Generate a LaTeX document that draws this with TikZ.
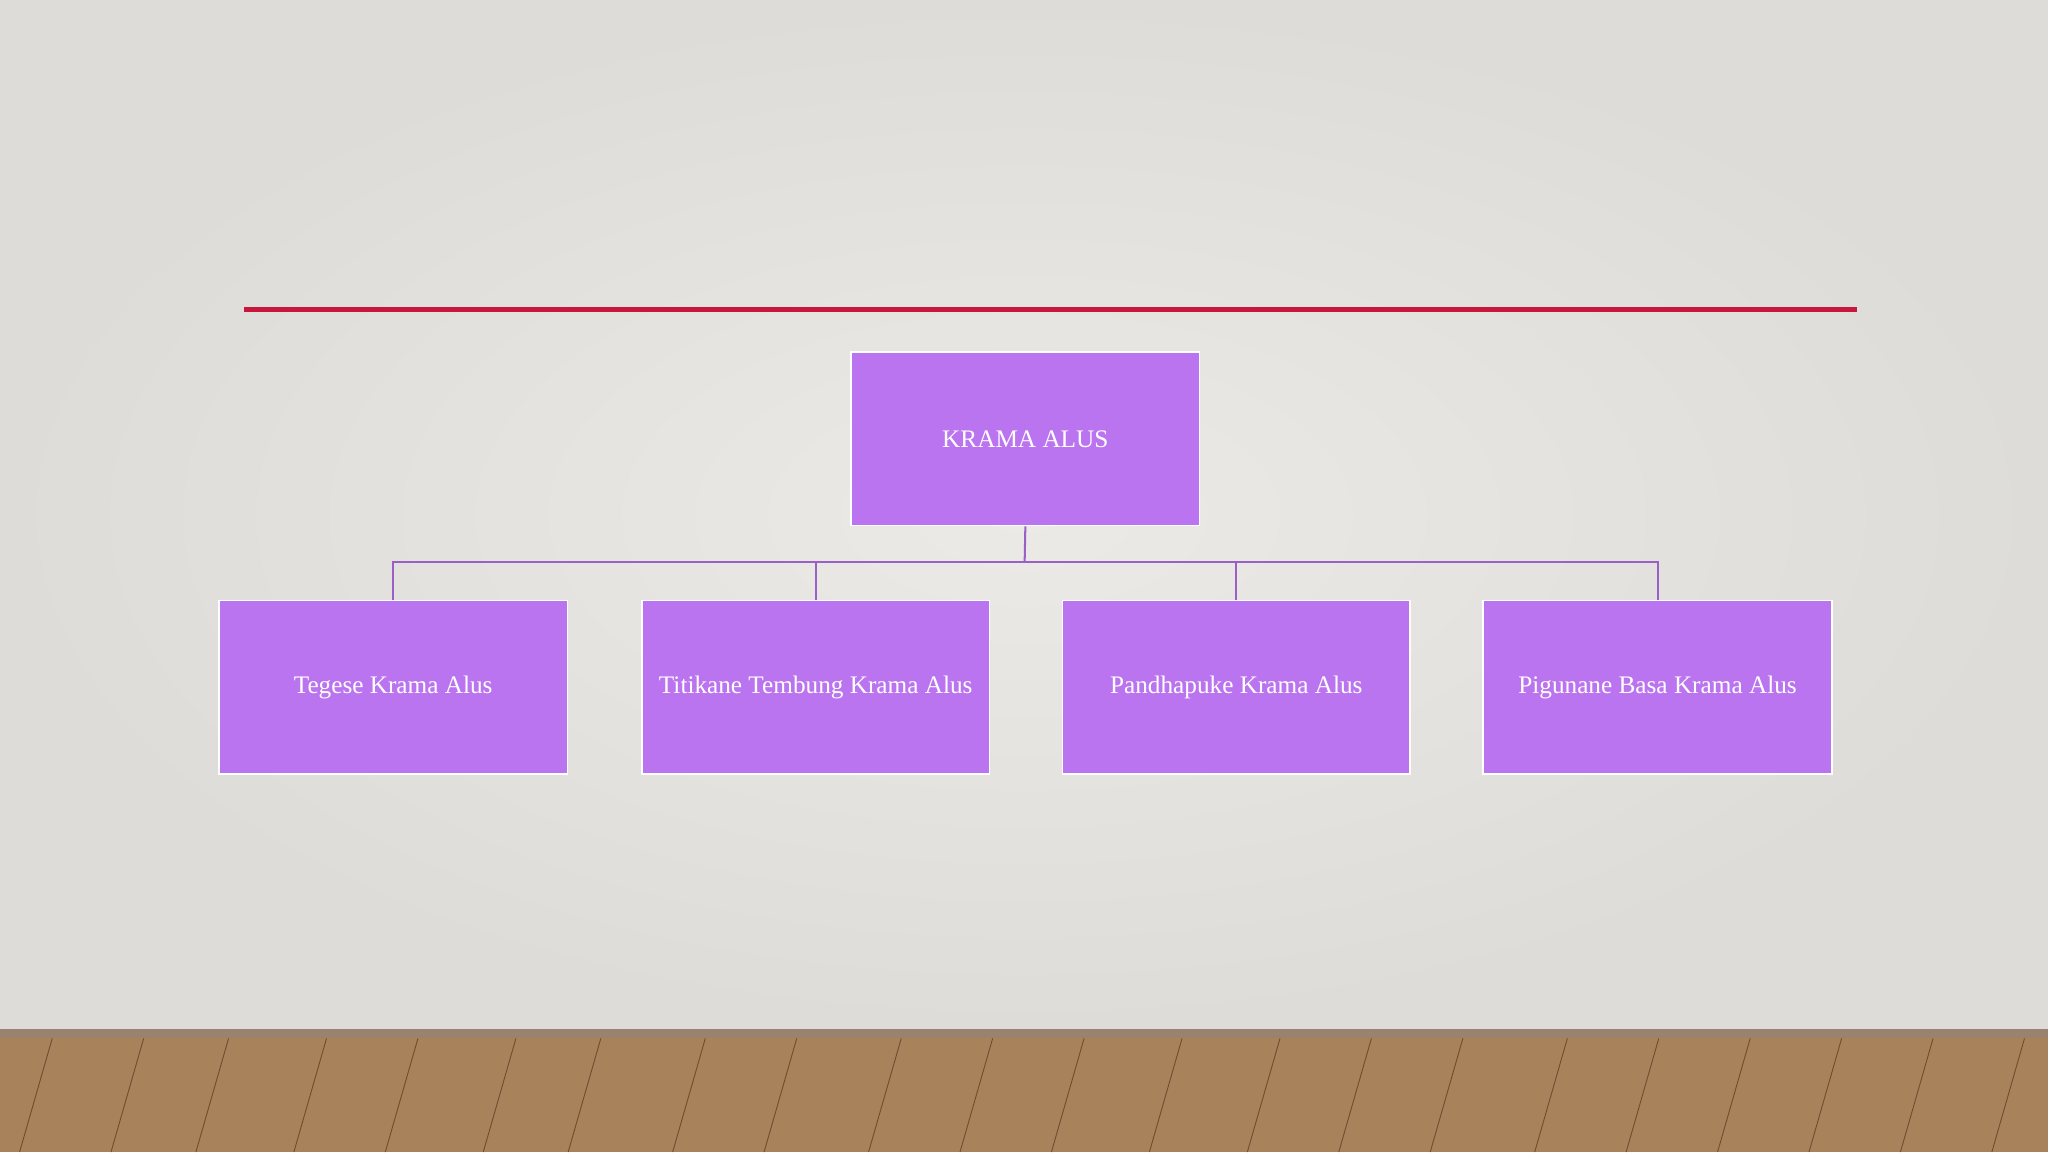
\documentclass[tikz,border=0pt]{standalone}
\usepackage{fontspec}
\setmainfont{Liberation Serif}
\definecolor{boxfill}{HTML}{BB74EF}
\definecolor{linkc}{HTML}{9B5FC8}
\definecolor{redline}{HTML}{C8163C}
\definecolor{bgc}{HTML}{ECEAE6}
\definecolor{bgd}{HTML}{DEDCD8}
\definecolor{wood}{HTML}{A8825A}
\definecolor{woodd}{HTML}{6E4E30}
\begin{document}
\begin{tikzpicture}[x=0.05cm,y=-0.05cm,
  box/.style={draw=white,line width=1.5pt,fill=boxfill,text=white,font=\fontsize{27.5}{32}\selectfont,minimum width=267*0.05cm,minimum height=133*0.05cm,inner sep=0pt,anchor=north west},
  link/.style={draw=linkc,line width=2.2pt}]
\useasboundingbox (0,0) rectangle (1568,882);
\shade[inner color=bgc,outer color=bgd] (0,0) rectangle (1568,788);
\fill[wood] (0,788) rectangle (1568,882);
\fill[woodd!70] (0,788) rectangle (1568,795);
\foreach \x in {40,110,175,250,320,395,460,540,610,690,760,830,905,980,1050,1120,1200,1270,1340,1410,1480,1550}
  \draw[woodd,line width=1pt] (\x,795) -- (\x-25,882);
\draw[redline,line width=4.5pt] (187,237) -- (1422,237);
\node[box] (top) at (651,269) {KRAMA ALUS};
\node[box] (a) at (167,459) {Tegese Krama Alus};
\node[box,minimum width=266*0.05cm] (b) at (491,459) {Titikane Tembung Krama Alus};
\node[box,minimum width=266*0.05cm] (c) at (813,459) {Pandhapuke Krama Alus};
\node[box] (d) at (1135,459) {Pigunane Basa Krama Alus};
\coordinate (j) at (784.5,430);
\draw[link] (top.south) -- (j);
\foreach \n in {a,b,c,d} \draw[link] (\n.north) -- (\n.north |- j) -- (j);
\end{tikzpicture}
\end{document}
